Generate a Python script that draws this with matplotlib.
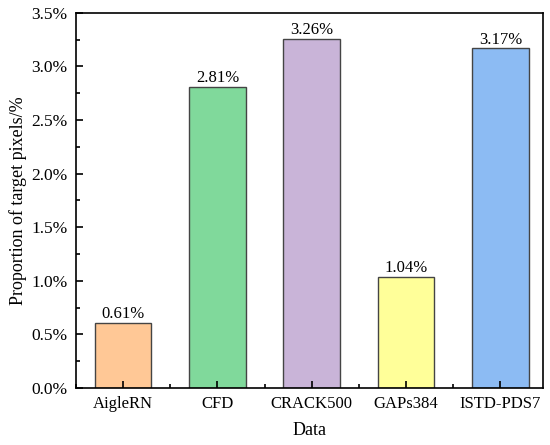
import numpy as np
import matplotlib
matplotlib.use("Agg")
import matplotlib.pyplot as plt
from matplotlib.ticker import FuncFormatter, MultipleLocator

plt.rcParams.update({
    "font.family": ["Liberation Serif", "DejaVu Serif"],
    "font.size": 11,
    "xtick.direction": "in",
    "ytick.direction": "in",
})

datasets = ["AigleRN", "CFD", "CRACK500", "GAPs384", "ISTD-PDS7"]
proportions = [0.61, 2.81, 3.26, 1.04, 3.17]
colors = ["#FFC896", "#80D99B", "#C9B4D8", "#FFFF99", "#8CBBF3"]

fig = plt.figure(figsize=(5.5, 4.45), dpi=100)
ax = fig.add_axes([0.138, 0.128, 0.849, 0.843])

x = np.arange(len(datasets))
bars = ax.bar(x, proportions, width=0.6, color=colors,
              edgecolor="#444444", linewidth=1.0)
for bar, val in zip(bars, proportions):
    ax.text(bar.get_x() + bar.get_width() / 2, bar.get_height() + 0.005,
            f"{val:.2f}%", ha="center", va="bottom", fontsize=12)

ax.set_xlim(-0.5, 4.45)
ax.set_ylim(0, 3.5)
ax.set_xticks(x)
ax.set_xticklabels(datasets)
ax.xaxis.set_minor_locator(MultipleLocator(1, offset=0.5))
ax.yaxis.set_major_locator(MultipleLocator(0.5))
ax.yaxis.set_minor_locator(MultipleLocator(0.25))
ax.yaxis.set_major_formatter(FuncFormatter(lambda v, p: f"{v:.1f}%"))
ax.tick_params(which="major", length=5, width=1.2)
ax.tick_params(which="minor", length=3, width=1.2)
ax.tick_params(axis="y", labelsize=12.5, pad=6)
ax.tick_params(axis="x", labelsize=12, pad=6)

for s in ax.spines.values():
    s.set_linewidth(1.2)

ax.set_xlabel("Data", fontsize=13, labelpad=7)
ax.set_ylabel("Proportion of target pixels/%", fontsize=13, labelpad=3)

fig.savefig("out.png", dpi=100)
